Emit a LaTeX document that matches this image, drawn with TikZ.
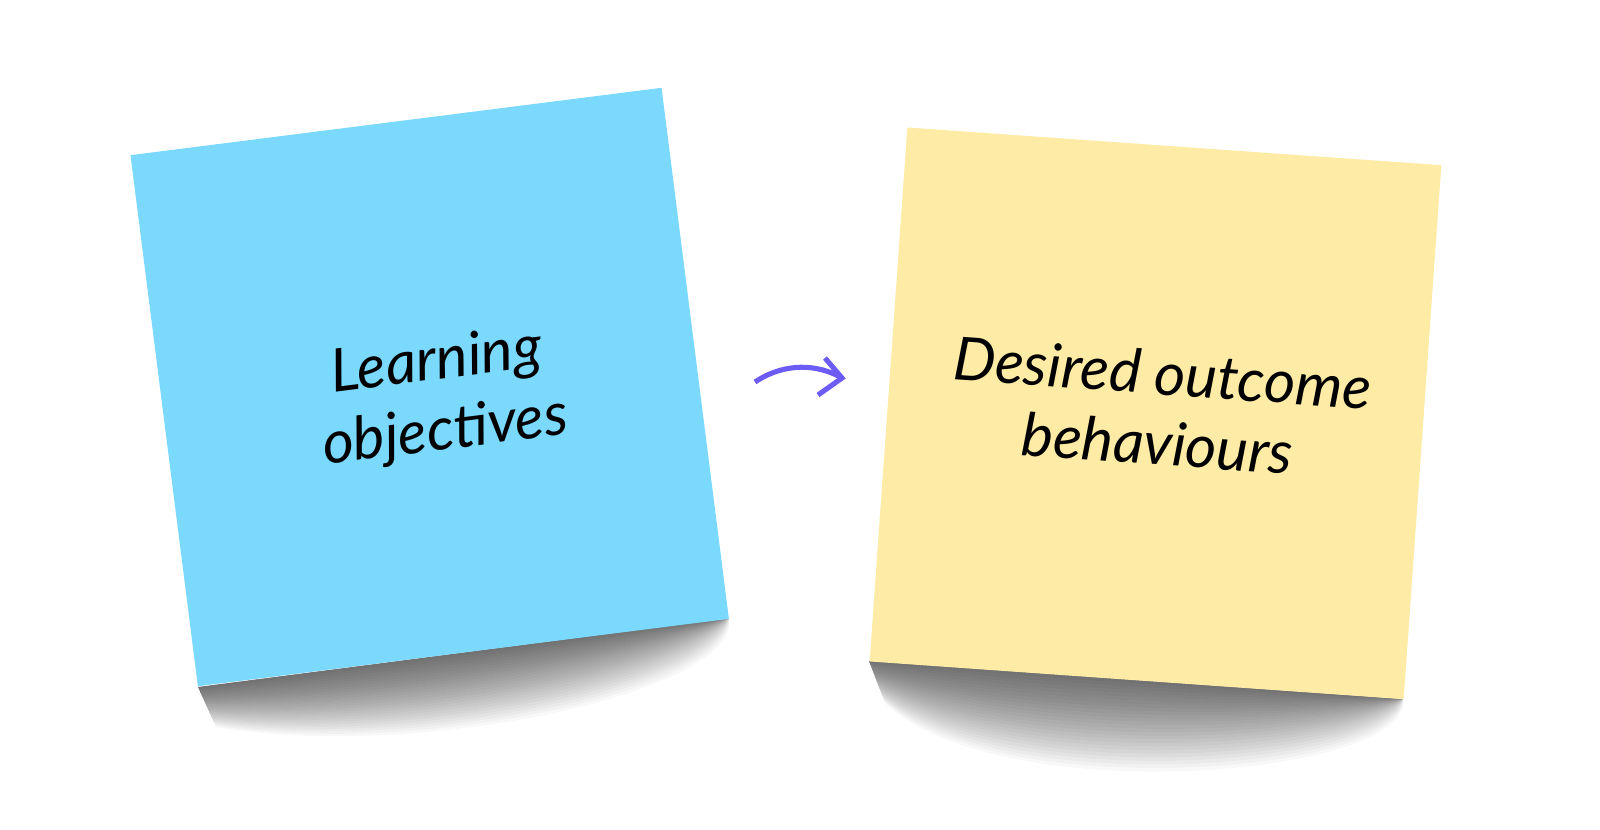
\documentclass[tikz,border=0pt]{standalone}
\usepackage{fontspec}
\setmainfont{Lato}
\definecolor{noteblue}{HTML}{7AD9FD}
\definecolor{noteyellow}{HTML}{FEECA6}
\definecolor{arrowc}{HTML}{6C5CF5}
\begin{document}
\begin{tikzpicture}[x=0.01cm,y=-0.01cm,
  note/.style={minimum size=5.35cm, inner sep=0pt, outer sep=0pt, draw=none},
  lbl/.style={font=\fontsize{17}{20}\selectfont\itshape, align=center, text=black, inner sep=0pt},
  shadowlayer/.style={fill=black, opacity=0.027},
  conn/.style={draw=arrowc, line width=1.45pt, line cap=butt}]
\fill[white] (0,0) rectangle (1600,829);
\useasboundingbox (0,0) rectangle (1600,829);
% shadows
\foreach \k in {1,...,26}{
  \pgfmathsetmacro\t{\k/26}
  \fill[shadowlayer] (198,687) -- (729,618)
    .. controls ({552+190*\t},{641+50*\t}) and ({375+45*\t},{664+98*\t}) ..
    ({198+18*\t},{687+40*\t}) -- cycle;
  \fill[shadowlayer] (869,661) -- (1403,699)
    .. controls ({1225+190*\t},{686+90*\t}) and ({1047-47*\t},{674+138*\t}) ..
    ({869+16*\t},{661+42*\t}) -- cycle;
}
% notes
\node[note, fill=noteblue, rotate=7.23] (blue) at (429.7,387) {};
\node[note, fill=noteyellow, rotate=-4.04] (yellow) at (1155.5,413.3) {};
% labels
\node[lbl, rotate=7.23] (t1) at (441,398) {Learning\\objectives};
\node[lbl, rotate=-4.04] (t2) at (1160,408) {Desired outcome\\behaviours};
% arrow
\coordinate (a1) at (755,382);
\coordinate (a2) at (842,378);
\coordinate (h1) at (825,358);
\coordinate (h2) at (818,395);
\draw[conn] (a1) .. controls (785,362) and (818,364) .. (a2);
\draw[conn, line join=miter] (h1) -- (a2) -- (h2);
\end{tikzpicture}
\end{document}
